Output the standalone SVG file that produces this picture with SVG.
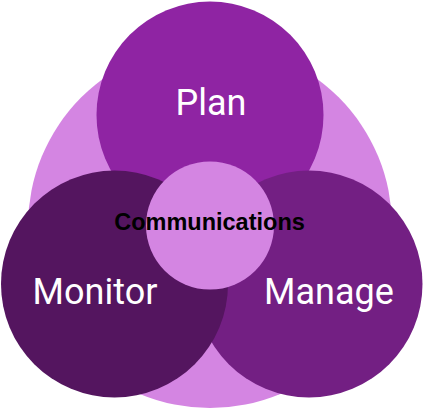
<svg xmlns="http://www.w3.org/2000/svg" width="424" height="410" viewBox="0 0 424 410">
<style>
.lbl{font-family:Roboto,"Liberation Sans",sans-serif;font-size:36px;fill:#ffffff;text-anchor:middle}
.ctr{font-family:"Liberation Sans",Arial,sans-serif;font-weight:bold;font-size:23.5px;fill:#000000;text-anchor:middle}
</style>
<rect width="424" height="410" fill="#ffffff"/>
<g id="outer"><circle cx="210" cy="226" r="182" fill="#d485e2"/></g>
<g id="plan"><circle cx="210" cy="115" r="113.5" fill="#8f24a3"/><text class="lbl" x="211" y="115">Plan</text></g>
<g id="manage"><circle cx="309" cy="284" r="113.5" fill="#731f83"/><text class="lbl" x="329" y="304">Manage</text></g>
<g id="monitor"><circle cx="114.5" cy="284" r="113.5" fill="#54155f"/><text class="lbl" x="95" y="304">Monitor</text></g>
<g id="communications"><circle cx="210" cy="225.5" r="64" fill="#d485e2"/><text class="ctr" x="209.5" y="229.5">Communications</text></g>
<g id="connectors"></g>
</svg>
